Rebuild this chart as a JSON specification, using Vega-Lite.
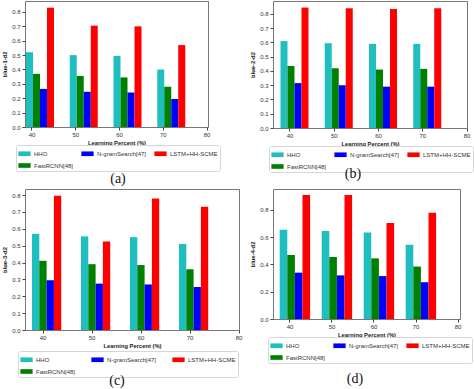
{
  "$schema": "https://vega.github.io/schema/vega-lite/v6.json",
  "padding": {"left": 1, "top": 0, "right": 0, "bottom": 0},
  "background": "white",
  "columns": 2,
  "spacing": {"row": 2, "column": 6},
  "resolve": {"legend": {"color": "independent"}, "scale": {"x": "independent", "y": "independent", "xOffset": "independent"}},
  "config": {
    "view": {"stroke": "#777", "strokeWidth": 1},
    "font": "Liberation Sans",
    "axis": {"grid": false, "domain": false, "tickSize": 3, "tickColor": "#444", "labelFontSize": 6, "labelColor": "#333", "labelPadding": 1, "titleFontSize": 5.8, "titleFontWeight": "bold", "titleColor": "#222", "titlePadding": 2, "labelFont": "Liberation Sans", "titleFont": "Liberation Sans"},
    "axisX": {"labelAngle": 0},
    "axisY": {"labelPadding": 2, "titlePadding": 4},
    "legend": {"orient": "none", "direction": "horizontal", "columns": 3, "title": null, "labelFontSize": 6, "labelColor": "#333", "labelFont": "Liberation Sans", "symbolType": "M-1,-0.38H1V0.38H-1Z", "symbolSize": 150, "symbolStrokeWidth": 0, "symbolOpacity": 1, "labelOffset": 3, "rowPadding": 2, "columnPadding": 7, "padding": 2, "strokeColor": "#d6d6d6", "fillColor": "white", "cornerRadius": 2},
    "title": {"orient": "bottom", "frame": "group", "anchor": "middle", "font": "Liberation Serif", "fontSize": 14, "fontWeight": "normal", "color": "#111"}
  },
  "datasets": {
    "a": [
      {"lp": 40, "method": "HHO", "v": 0.52}, {"lp": 50, "method": "HHO", "v": 0.50}, {"lp": 60, "method": "HHO", "v": 0.495}, {"lp": 70, "method": "HHO", "v": 0.40},
      {"lp": 40, "method": "FastRCNN[48]", "v": 0.37}, {"lp": 50, "method": "FastRCNN[48]", "v": 0.355}, {"lp": 60, "method": "FastRCNN[48]", "v": 0.345}, {"lp": 70, "method": "FastRCNN[48]", "v": 0.28},
      {"lp": 40, "method": "N-gramSearch[47]", "v": 0.265}, {"lp": 50, "method": "N-gramSearch[47]", "v": 0.245}, {"lp": 60, "method": "N-gramSearch[47]", "v": 0.24}, {"lp": 70, "method": "N-gramSearch[47]", "v": 0.195},
      {"lp": 40, "method": "LSTM+HH-SCME", "v": 0.83}, {"lp": 50, "method": "LSTM+HH-SCME", "v": 0.705}, {"lp": 60, "method": "LSTM+HH-SCME", "v": 0.70}, {"lp": 70, "method": "LSTM+HH-SCME", "v": 0.57}
    ],
    "b": [
      {"lp": 40, "method": "HHO", "v": 0.61}, {"lp": 50, "method": "HHO", "v": 0.595}, {"lp": 60, "method": "HHO", "v": 0.59}, {"lp": 70, "method": "HHO", "v": 0.59},
      {"lp": 40, "method": "FastRCNN[48]", "v": 0.435}, {"lp": 50, "method": "FastRCNN[48]", "v": 0.42}, {"lp": 60, "method": "FastRCNN[48]", "v": 0.41}, {"lp": 70, "method": "FastRCNN[48]", "v": 0.415},
      {"lp": 40, "method": "N-gramSearch[47]", "v": 0.315}, {"lp": 50, "method": "N-gramSearch[47]", "v": 0.30}, {"lp": 60, "method": "N-gramSearch[47]", "v": 0.29}, {"lp": 70, "method": "N-gramSearch[47]", "v": 0.29},
      {"lp": 40, "method": "LSTM+HH-SCME", "v": 0.845}, {"lp": 50, "method": "LSTM+HH-SCME", "v": 0.84}, {"lp": 60, "method": "LSTM+HH-SCME", "v": 0.835}, {"lp": 70, "method": "LSTM+HH-SCME", "v": 0.84}
    ],
    "c": [
      {"lp": 40, "method": "HHO", "v": 0.57}, {"lp": 50, "method": "HHO", "v": 0.555}, {"lp": 60, "method": "HHO", "v": 0.55}, {"lp": 70, "method": "HHO", "v": 0.51},
      {"lp": 40, "method": "FastRCNN[48]", "v": 0.41}, {"lp": 50, "method": "FastRCNN[48]", "v": 0.39}, {"lp": 60, "method": "FastRCNN[48]", "v": 0.385}, {"lp": 70, "method": "FastRCNN[48]", "v": 0.36},
      {"lp": 40, "method": "N-gramSearch[47]", "v": 0.295}, {"lp": 50, "method": "N-gramSearch[47]", "v": 0.275}, {"lp": 60, "method": "N-gramSearch[47]", "v": 0.27}, {"lp": 70, "method": "N-gramSearch[47]", "v": 0.255},
      {"lp": 40, "method": "LSTM+HH-SCME", "v": 0.795}, {"lp": 50, "method": "LSTM+HH-SCME", "v": 0.525}, {"lp": 60, "method": "LSTM+HH-SCME", "v": 0.78}, {"lp": 70, "method": "LSTM+HH-SCME", "v": 0.73}
    ],
    "d": [
      {"lp": 40, "method": "HHO", "v": 0.655}, {"lp": 50, "method": "HHO", "v": 0.645}, {"lp": 60, "method": "HHO", "v": 0.635}, {"lp": 70, "method": "HHO", "v": 0.545},
      {"lp": 40, "method": "FastRCNN[48]", "v": 0.47}, {"lp": 50, "method": "FastRCNN[48]", "v": 0.455}, {"lp": 60, "method": "FastRCNN[48]", "v": 0.445}, {"lp": 70, "method": "FastRCNN[48]", "v": 0.385},
      {"lp": 40, "method": "N-gramSearch[47]", "v": 0.34}, {"lp": 50, "method": "N-gramSearch[47]", "v": 0.32}, {"lp": 60, "method": "N-gramSearch[47]", "v": 0.315}, {"lp": 70, "method": "N-gramSearch[47]", "v": 0.27},
      {"lp": 40, "method": "LSTM+HH-SCME", "v": 0.91}, {"lp": 50, "method": "LSTM+HH-SCME", "v": 0.91}, {"lp": 60, "method": "LSTM+HH-SCME", "v": 0.705}, {"lp": 70, "method": "LSTM+HH-SCME", "v": 0.78}
    ]
  },
  "concat": [
    {
      "data": {"name": "a"},
      "width": 183, "height": 126,
      "title": {"text": "(a)", "dx": 1.5, "offset": 0},
      "mark": {"type": "bar"},
      "encoding": {
        "x": {"field": "lp", "type": "ordinal", "scale": {"domain": [40, 50, 60, 70, 80], "paddingInner": 1, "paddingOuter": 0.0914, "align": 0.875}, "axis": {"format": "d", "title": "Learning Percent (%)"}},
        "xOffset": {"field": "method", "type": "nominal", "scale": {"domain": ["HHO", "FastRCNN[48]", "N-gramSearch[47]", "LSTM+HH-SCME"], "range": [-6, 22], "paddingInner": 0, "paddingOuter": 0}},
        "y": {"field": "v", "type": "quantitative", "stack": null, "scale": {"domain": [0, 0.8765], "nice": false}, "axis": {"values": [0, 0.1, 0.2, 0.3, 0.4, 0.5, 0.6, 0.7, 0.8], "format": ".1f", "title": "blue-1-d2"}},
        "color": {"field": "method", "type": "nominal", "scale": {"domain": ["HHO", "N-gramSearch[47]", "LSTM+HH-SCME", "FastRCNN[48]"], "range": ["#1fbfbf", "#0000ff", "#ff0000", "#008000"]}, "legend": {"legendX": -9, "legendY": 144}}
      }
    },
    {
      "data": {"name": "b"},
      "width": 194, "height": 127,
      "title": {"text": "(b)", "dx": -17, "offset": -6},
      "mark": {"type": "bar"},
      "encoding": {
        "x": {"field": "lp", "type": "ordinal", "scale": {"domain": [40, 50, 60, 70, 80], "paddingInner": 1, "paddingOuter": 0.192, "align": 1}, "axis": {"format": "d", "title": "Learning Percent (%)"}},
        "xOffset": {"field": "method", "type": "nominal", "scale": {"domain": ["HHO", "FastRCNN[48]", "N-gramSearch[47]", "LSTM+HH-SCME"], "range": [-9.5, 18.5], "paddingInner": 0, "paddingOuter": 0}},
        "y": {"field": "v", "type": "quantitative", "stack": null, "scale": {"domain": [0, 0.891], "nice": false}, "axis": {"values": [0, 0.1, 0.2, 0.3, 0.4, 0.5, 0.6, 0.7, 0.8], "format": ".1f", "title": "blue-2-d2"}},
        "color": {"field": "method", "type": "nominal", "scale": {"domain": ["HHO", "N-gramSearch[47]", "LSTM+HH-SCME", "FastRCNN[48]"], "range": ["#1fbfbf", "#0000ff", "#ff0000", "#008000"]}, "legend": {"legendX": -4, "legendY": 145}}
      }
    },
    {
      "data": {"name": "c"},
      "width": 214, "height": 141,
      "title": {"text": "(c)", "dx": -15, "offset": -4},
      "mark": {"type": "bar"},
      "encoding": {
        "x": {"field": "lp", "type": "ordinal", "scale": {"domain": [40, 50, 60, 70, 80], "paddingInner": 1, "paddingOuter": 0.1837, "align": 1}, "axis": {"format": "d", "title": "Learning Percent (%)"}},
        "xOffset": {"field": "method", "type": "nominal", "scale": {"domain": ["HHO", "FastRCNN[48]", "N-gramSearch[47]", "LSTM+HH-SCME"], "range": [-11, 18.2], "paddingInner": 0, "paddingOuter": 0}},
        "y": {"field": "v", "type": "quantitative", "stack": null, "scale": {"domain": [0, 0.8356], "nice": false}, "axis": {"values": [0, 0.1, 0.2, 0.3, 0.4, 0.5, 0.6, 0.7, 0.8], "format": ".1f", "title": "blue-3-d2"}},
        "color": {"field": "method", "type": "nominal", "scale": {"domain": ["HHO", "N-gramSearch[47]", "LSTM+HH-SCME", "FastRCNN[48]"], "range": ["#1fbfbf", "#0000ff", "#ff0000", "#008000"]}, "legend": {"legendX": -7, "legendY": 162, "columnPadding": 15}}
      }
    },
    {
      "data": {"name": "d"},
      "width": 187, "height": 130,
      "title": {"text": "(d)", "dx": -11.5, "offset": 8},
      "mark": {"type": "bar"},
      "encoding": {
        "x": {"field": "lp", "type": "ordinal", "scale": {"domain": [40, 50, 60, 70, 80], "paddingInner": 1, "paddingOuter": 0.226, "align": 0.895}, "axis": {"format": "d", "title": "Learning Percent (%)"}},
        "xOffset": {"field": "method", "type": "nominal", "scale": {"domain": ["HHO", "FastRCNN[48]", "N-gramSearch[47]", "LSTM+HH-SCME"], "range": [-10.3, 20.1], "paddingInner": 0, "paddingOuter": 0}},
        "y": {"field": "v", "type": "quantitative", "stack": null, "scale": {"domain": [0, 0.954], "nice": false}, "axis": {"values": [0, 0.2, 0.4, 0.6, 0.8], "format": ".1f", "title": "blue-4-d2"}},
        "color": {"field": "method", "type": "nominal", "scale": {"domain": ["HHO", "N-gramSearch[47]", "LSTM+HH-SCME", "FastRCNN[48]"], "range": ["#1fbfbf", "#0000ff", "#ff0000", "#008000"]}, "legend": {"legendX": -5, "legendY": 148}}
      }
    }
  ]
}
